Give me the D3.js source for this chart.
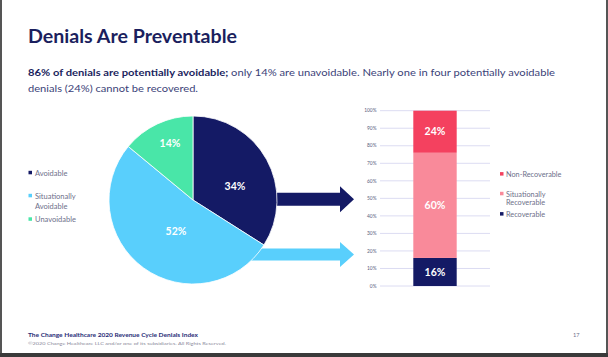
<!DOCTYPE html>
<html><head><meta charset="utf-8">
<script src="https://cdn.jsdelivr.net/npm/d3@7"></script>
<style>
html,body{margin:0;padding:0;background:#fff;}
svg{display:block;font-family:Lato,"Open Sans",sans-serif;}
</style></head>
<body><svg id="c" width="608" height="357"></svg>
<script>
// ---- data ----
const pieCategories = ["Avoidable", "Situationally Avoidable", "Unavoidable"];
const pieValues = [34, 52, 14];
const pieColors = ["#141a65", "#59cffc", "#49e6a8"];
const pieLegendLines = [["Avoidable"], ["Situationally", "Avoidable"], ["Unavoidable"]];

const barCategories = ["Recoverable", "Situationally Recoverable", "Non-Recoverable"];
const barValues = [16, 60, 24];
const barColors = ["#141a65", "#f98a9a", "#f4415f"];
const barLegendOrder = ["Non-Recoverable", "Situationally Recoverable", "Recoverable"];
const barLegendLines = [["Non-Recoverable"], ["Situationally", "Recoverable"], ["Recoverable"]];
const yTicks = [0,10,20,30,40,50,60,70,80,90,100];

const svg = d3.select("#c");
const navy = "#1b1f5e";

// frame
svg.append("rect").attr("x",0).attr("y",0).attr("width",608).attr("height",357).attr("fill","#fff");
svg.append("rect").attr("x",0).attr("y",0).attr("width",2).attr("height",357).attr("fill","#555");
svg.append("rect").attr("x",606).attr("y",0).attr("width",2).attr("height",357).attr("fill","#555");
svg.append("rect").attr("x",0).attr("y",353).attr("width",608).attr("height",4).attr("fill","#3a3a3a");

// title
svg.append("text").attr("x",28).attr("y",43).attr("font-size",19.5).attr("font-weight","bold")
  .attr("fill",navy).attr("textLength",209).attr("lengthAdjust","spacingAndGlyphs").text("Denials Are Preventable");
const sub1 = svg.append("text").attr("x",28).attr("y",75.5).attr("font-size",10).attr("fill","#3b3f78")
  .attr("textLength",527).attr("lengthAdjust","spacingAndGlyphs");
sub1.append("tspan").attr("font-weight","bold").attr("fill",navy).text("86% of denials are potentially avoidable;");
sub1.append("tspan").text(" only 14% are unavoidable. Nearly one in four potentially avoidable");
svg.append("text").attr("x",28).attr("y",91.5).attr("font-size",10).attr("fill","#3b3f78")
  .attr("textLength",170).attr("lengthAdjust","spacingAndGlyphs").text("denials (24%) cannot be recovered.");

// bar scale
const y = d3.scaleLinear().domain([0,100]).range([286,110.7]);

// arrows (behind pie)
const cx = 193, cy = 200, r = 84;
function arrow(yc, shaftH, headH, x0, xBase, xTip, color){
  const p = d3.path();
  p.moveTo(x0, yc - shaftH); p.lineTo(xBase, yc - shaftH); p.lineTo(xBase, yc - headH);
  p.lineTo(xTip, yc); p.lineTo(xBase, yc + headH); p.lineTo(xBase, yc + shaftH);
  p.lineTo(x0, yc + shaftH); p.closePath();
  svg.append("path").attr("d", p.toString()).attr("fill", color);
}
arrow(y(49.5), 6.5, 13, cx, 340, 354, pieColors[0]);
arrow(y(18), 6, 12.5, cx, 340, 354, pieColors[1]);

// pie
const pie = d3.pie().sort(null).value(d => d)(pieValues);
const arc = d3.arc().innerRadius(0).outerRadius(r);
const g = svg.append("g").attr("transform",`translate(${cx},${cy})`);
g.selectAll("path").data(pie).join("path").attr("d",arc)
  .attr("fill",(d,i)=>pieColors[i]).attr("stroke","#fff").attr("stroke-width",0.8);
// label offsets from pie centre (layout only)
const pieLabelOffsets = [[42,-14],[-17,31],[-23,-57]];
g.selectAll("text").data(pie).join("text")
  .attr("x",(d,i)=>pieLabelOffsets[i][0]).attr("y",(d,i)=>pieLabelOffsets[i][1])
  .attr("text-anchor","middle").attr("dy","0.35em").attr("fill","#fff")
  .attr("font-size",10.5).attr("font-weight","bold").text((d,i)=>pieValues[i]+"%");

// pie legend
const legL = svg.append("g");
const legLY = [173, 196, 219.5];
pieLegendLines.forEach((lines,i)=>{
  legL.append("rect").attr("x",28.5).attr("y",legLY[i]-2.2).attr("width",3.5).attr("height",3.5).attr("fill",pieColors[i]);
  lines.forEach((t,j)=>{
    legL.append("text").attr("x",35).attr("y",legLY[i]+j*10).attr("dy","0.35em")
      .attr("font-size",7.5).attr("fill","#6d6f8a").text(t);
  });
});

// gridlines + tick labels
const grid = svg.append("g");
grid.selectAll("line").data(yTicks).join("line")
  .attr("x1",380).attr("x2",490).attr("y1",d=>y(d)).attr("y2",d=>y(d))
  .attr("stroke","#dcdcf2").attr("stroke-width",1);
grid.selectAll("text").data(yTicks).join("text")
  .attr("x",376.5).attr("y",d=>y(d)).attr("dy","0.35em").attr("text-anchor","end")
  .attr("font-size",4.8).attr("fill","#5a5d80").text(d=>d+"%");

// stacked bar
let acc = 0;
const segs = barValues.map((v,i)=>{const s={y0:acc,y1:acc+v,v,i}; acc+=v; return s;});
const bw = 43.4, bx = 413.3;
svg.append("g").selectAll("rect").data(segs).join("rect")
  .attr("x",bx).attr("width",bw).attr("y",d=>y(d.y1)).attr("height",d=>y(d.y0)-y(d.y1))
  .attr("fill",d=>barColors[d.i]);
svg.append("g").selectAll("text").data(segs).join("text")
  .attr("x",bx+bw/2).attr("y",d=>y((d.y0+d.y1)/2)).attr("dy","0.35em").attr("text-anchor","middle")
  .attr("fill","#fff").attr("font-size",10.5).attr("font-weight","bold").text(d=>d.v+"%");

// bar legend
const legR = svg.append("g");
const legRY = [174.3, 194, 214.3];
barLegendOrder.forEach((name,k)=>{
  const i = barCategories.indexOf(name);
  legR.append("rect").attr("x",500).attr("y",legRY[k]-2.2).attr("width",3.5).attr("height",3.5).attr("fill",barColors[i]);
  barLegendLines[k].forEach((t,j)=>{
    legR.append("text").attr("x",506).attr("y",legRY[k]+j*8.7).attr("dy","0.35em")
      .attr("font-size",7.3).attr("fill","#6d6f8a").text(t);
  });
});

// footer
svg.append("text").attr("x",28).attr("y",337).attr("font-size",5.6).attr("font-weight","bold")
  .attr("fill","#2a2e78").attr("textLength",170).attr("lengthAdjust","spacingAndGlyphs")
  .text("The Change Healthcare 2020 Revenue Cycle Denials Index");
svg.append("text").attr("x",28).attr("y",344.5).attr("font-size",4.6)
  .attr("fill","#8a8a9a").attr("textLength",198).attr("lengthAdjust","spacingAndGlyphs")
  .text("©2020 Change Healthcare LLC and/or one of its subsidiaries. All Rights Reserved.");
svg.append("text").attr("x",573).attr("y",337).attr("font-size",5.6).attr("fill","#6d6f8a").text("17");
</script>
</body></html>
